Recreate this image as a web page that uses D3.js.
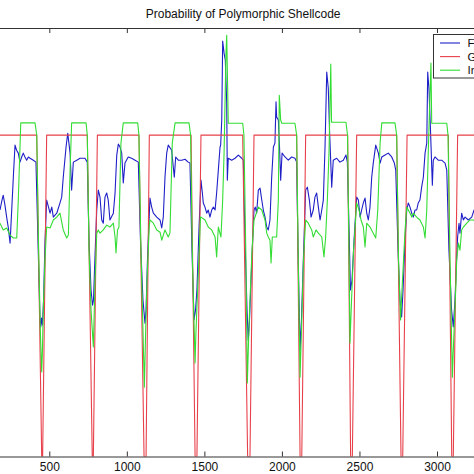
<!DOCTYPE html>
<html><head><meta charset="utf-8">
<script src="https://cdn.jsdelivr.net/npm/d3@7"></script>
<style>body{margin:0;background:#fff;overflow:hidden}</style>
</head><body>
<svg id="c" width="474" height="474"></svg>
<script>
const title = "Probability of Polymorphic Shellcode";
const xTicks = [500, 1000, 1500, 2000, 2500, 3000];
const seriesNames = ["Filtered", "Ground Truth", "Instantaneous"];

const filtered = [
[182,0.767],[195,0.798],[203,0.813],[214,0.782],[225,0.745],[236,0.711],[247,0.664],[256,0.751],[268,0.869],[279,0.969],[289,0.953],[300,0.944],[311,0.916],[322,0.932],[332,0.944],[343,0.932],[354,0.922],[365,0.932],[376,0.928],[397,0.922],[414,0.916],
[427,0.673],[440,0.425],[445,0.403],[450,0.431],[456,0.409],[463,0.487],[472,0.664],[483,0.798],
[505,0.757],[516,0.776],[526,0.745],[548,0.757],[569,0.789],[580,0.807],[590,0.869],[608,0.963],[619,1.006],[634,0.944],[644,0.829],[655,0.916],[677,0.922],[698,0.928],[730,0.928],[745,0.916],
[756,0.673],[769,0.518],[779,0.471],[785,0.487],[795,0.627],[806,0.767],
[816,0.829],[827,0.807],[838,0.736],[848,0.726],[859,0.807],[870,0.820],[880,0.798],[891,0.736],[913,0.757],[924,0.820],[935,0.938],[945,0.972],[956,0.963],[967,0.944],[977,0.851],[988,0.913],[1009,0.932],[1031,0.928],[1053,0.922],[1074,0.916],
[1088,0.673],[1104,0.487],[1117,0.415],[1124,0.456],[1133,0.611],[1149,0.804],
[1160,0.776],[1171,0.757],[1193,0.745],[1214,0.736],[1225,0.711],[1235,0.745],[1246,0.869],[1257,0.944],[1267,0.969],[1289,0.953],[1306,0.869],[1315,0.932],[1332,0.922],[1354,0.922],[1375,0.925],[1396,0.916],[1407,0.913],
[1420,0.642],[1433,0.425],[1443,0.456],[1452,0.518],[1465,0.705],[1478,0.860],
[1487,0.820],[1493,0.789],[1504,0.776],[1515,0.757],[1525,0.767],[1536,0.745],[1547,0.767],[1558,0.776],[1569,0.767],[1579,0.820],[1590,0.891],[1601,0.963],[1605,0.969],[1612,1.047],[1618,1.293],[1627,1.255],[1635,1.233],[1644,1.100],[1648,0.860],[1654,0.928],[1676,0.922],[1698,0.928],[1719,0.938],[1741,0.928],[1751,0.922],
[1762,0.673],[1775,0.456],[1783,0.362],[1791,0.425],[1801,0.549],[1814,0.705],
[1820,0.767],[1828,0.776],[1837,0.757],[1848,0.829],[1859,0.835],[1870,0.798],[1880,0.767],[1891,0.745],[1902,0.714],[1912,0.705],[1923,0.736],[1934,0.869],[1945,0.963],[1955,0.975],[1962,1.104],[1966,1.056],[1977,1.047],[1984,0.969],[1992,0.860],[2001,0.944],[2020,0.932],[2041,0.922],[2063,0.932],[2084,0.928],[2095,0.916],
[2104,0.642],[2117,0.331],[2126,0.425],[2136,0.580],[2153,0.829],
[2164,0.838],[2177,0.798],[2188,0.745],[2202,0.767],[2213,0.807],[2224,0.820],[2235,0.776],[2246,0.736],[2257,0.767],[2267,0.798],[2278,0.963],[2289,1.196],[2299,1.146],[2307,1.016],[2321,0.838],[2331,0.922],[2353,0.928],[2374,0.916],[2396,0.922],[2413,0.938],[2422,0.916],
[2433,0.705],[2442,0.518],[2452,0.549],[2465,0.673],[2482,0.807],
[2493,0.798],[2504,0.745],[2514,0.767],[2525,0.789],[2536,0.804],[2547,0.757],[2557,0.736],[2568,0.776],[2579,0.869],[2589,0.913],[2605,0.969],[2622,0.944],[2633,0.913],[2644,0.932],[2665,0.938],[2686,0.944],[2708,0.932],[2725,0.913],[2734,0.891],
[2749,0.642],[2761,0.487],[2772,0.434],[2781,0.518],[2794,0.673],[2805,0.767],
[2815,0.789],[2826,0.776],[2837,0.757],[2847,0.745],[2858,0.767],[2869,0.767],[2879,0.789],[2890,0.798],[2901,0.838],[2912,0.869],[2923,0.944],[2934,0.975],[2940,1.196],[2948,1.146],[2958,1.016],[2970,0.844],[2976,0.922],[2987,0.932],[3008,0.922],[3030,0.922],[3052,0.913],[3063,0.891],
[3077,0.642],[3094,0.456],[3105,0.403],[3116,0.487],[3126,0.611],[3133,0.683],
[3142,0.726],[3148,0.695],[3159,0.757],[3170,0.736],[3181,0.745],[3202,0.736],[3224,0.745],[3239,0.767],[3258,0.761]
];

const groundTruth = [
[150,1],[419,1],[451,0],[457,0],[483,1],
[745,1],[777,0],[784,0],[810,1],
[1078,1],[1111,0],[1124,0],[1145,1],
[1414,1],[1440,0],[1452,0],[1478,1],
[1747,1],[1779,0],[1794,0],[1820,1],
[2095,1],[2117,0],[2128,0],[2153,1],
[2424,1],[2443,0],[2454,0],[2482,1],
[2740,1],[2768,0],[2779,0],[2807,1],
[3073,1],[3095,0],[3105,0],[3133,1],
[3300,1]
];

const instant = [
[182,0.726],[203,0.705],[225,0.711],[247,0.689],[268,0.680],[290,0.680],[300,0.798],[316,1.038],[408,1.038],[419,1.000],
[430,0.673],[442,0.393],[451,0.263],[456,0.331],[461,0.456],[472,0.611],[483,0.714],
[505,0.711],[526,0.736],[548,0.745],[569,0.757],[590,0.705],[612,0.680],[623,0.689],[634,0.891],[644,1.038],[737,1.038],[745,1.000],
[756,0.642],[769,0.456],[784,0.341],[795,0.549],[806,0.695],
[816,0.705],[827,0.695],[848,0.705],[870,0.720],[891,0.714],[913,0.726],[924,0.683],[930,0.633],[940,0.705],[949,0.714],[962,0.975],[977,1.038],[1070,1.038],[1078,1.000],
[1091,0.642],[1104,0.393],[1113,0.216],[1120,0.362],[1130,0.549],[1145,0.720],
[1149,0.736],[1171,0.726],[1193,0.705],[1214,0.698],[1225,0.673],[1246,0.705],[1267,0.683],[1278,0.695],[1293,0.975],[1311,1.038],[1401,1.038],[1411,1.000],
[1423,0.611],[1440,0.291],[1446,0.393],[1459,0.549],[1475,0.745],
[1478,0.745],[1504,0.736],[1525,0.714],[1547,0.705],[1569,0.683],[1579,0.621],[1590,0.714],[1607,0.683],[1618,0.798],[1627,0.944],[1639,1.249],[1644,1.311],[1650,1.149],[1654,1.037],[1747,1.037],[1755,1.000],
[1768,0.611],[1777,0.229],[1785,0.362],[1794,0.487],[1807,0.642],[1820,0.736],
[1848,0.776],[1870,0.767],[1891,0.736],[1902,0.695],[1912,0.683],[1923,0.673],[1930,0.602],[1938,0.683],[1955,0.683],[1966,0.683],[1977,0.798],[1983,1.124],[1992,1.047],[1999,1.037],[2084,1.037],[2095,1.000],
[2107,0.549],[2117,0.247],[2126,0.393],[2139,0.611],[2153,0.736],
[2170,0.726],[2192,0.705],[2202,0.683],[2220,0.705],[2235,0.695],[2257,0.683],[2271,0.621],[2282,0.683],[2293,0.798],[2304,0.953],[2315,1.221],[2320,1.040],[2413,1.040],[2423,1.000],
[2433,0.611],[2439,0.353],[2449,0.487],[2462,0.642],[2482,0.789],
[2497,0.767],[2510,0.736],[2525,0.714],[2536,0.652],[2547,0.726],[2568,0.714],[2589,0.695],[2605,0.680],[2618,0.767],[2633,0.975],[2644,1.038],[2729,1.038],[2740,1.000],
[2752,0.611],[2765,0.425],[2771,0.487],[2781,0.580],[2794,0.705],[2805,0.776],
[2815,0.767],[2826,0.757],[2837,0.745],[2847,0.757],[2869,0.745],[2890,0.736],[2912,0.714],[2923,0.680],[2934,0.767],[2944,0.953],[2961,1.224],[2966,1.037],[3063,1.037],[3071,1.000],
[3084,0.611],[3099,0.247],[3110,0.393],[3123,0.549],[3127,0.611],
[3138,0.664],[3148,0.642],[3159,0.705],[3170,0.714],[3192,0.726],[3213,0.736],[3234,0.736],[3258,0.729]
];

const colors = ["#1f1fc8", "#e8404a", "#33dd33"];

const svg = d3.select("#c");
const pLeft = -28.24, pRight = 514.54, pTop = 28, pBottom = 456.5;
const x = d3.scaleLinear().domain([0, 3500]).range([pLeft, pRight]);
const y = d3.scaleLinear().domain([0, 4/3]).range([pBottom, pTop]);

svg.append("rect").attr("width", 474).attr("height", 474).attr("fill", "#fff");

svg.append("defs").append("clipPath").attr("id", "clip")
  .append("rect").attr("x", pLeft).attr("y", pTop).attr("width", pRight - pLeft).attr("height", pBottom - pTop);

const line = d3.line().x(d => x(d[0])).y(d => y(d[1]));
const g = svg.append("g").attr("clip-path", "url(#clip)");
[[filtered, 0], [groundTruth, 1], [instant, 2]].forEach(([data, i]) => {
  g.append("path").datum(data).attr("d", line)
    .attr("fill", "none").attr("stroke", colors[i]).attr("stroke-width", 1.1)
    .attr("stroke-linejoin", "round");
});

const axB = svg.append("g").attr("transform", `translate(0,${pBottom})`)
  .call(d3.axisBottom(x).tickValues(xTicks).tickSizeInner(-5).tickSizeOuter(0).tickPadding(6).tickFormat(d3.format("d")));
const axT = svg.append("g").attr("transform", `translate(0,${pTop})`)
  .call(d3.axisTop(x).tickValues(xTicks).tickSizeInner(-5).tickSizeOuter(0).tickFormat(""));
[axB, axT].forEach(a => {
  a.select(".domain").attr("stroke", "#333").attr("stroke-width", 1);
  a.selectAll(".tick line").attr("stroke", "#333");
  a.selectAll("text").attr("font-family", "Liberation Sans, Arial, sans-serif").attr("font-size", 12).attr("fill", "#111");
});

svg.append("text").attr("x", (pLeft + pRight) / 2).attr("y", 18)
  .attr("text-anchor", "middle").attr("font-family", "Liberation Sans, Arial, sans-serif")
  .attr("font-size", 12).attr("fill", "#111").text(title);

// legend
const lg = svg.append("g").attr("transform", "translate(433.5,34.5)");
lg.append("rect").attr("width", 90).attr("height", 43.5).attr("fill", "#fff").attr("stroke", "#333").attr("stroke-width", 1);
seriesNames.forEach((n, i) => {
  const yy = 8.5 + i * 13.6;
  lg.append("line").attr("x1", 6.5).attr("x2", 26.5).attr("y1", yy).attr("y2", yy)
    .attr("stroke", colors[i]).attr("stroke-width", 1.1);
  lg.append("text").attr("x", 34).attr("y", yy + 4).attr("font-family", "Liberation Sans, Arial, sans-serif")
    .attr("font-size", 11.5).attr("fill", "#111").text(n);
});
</script>
</body></html>
